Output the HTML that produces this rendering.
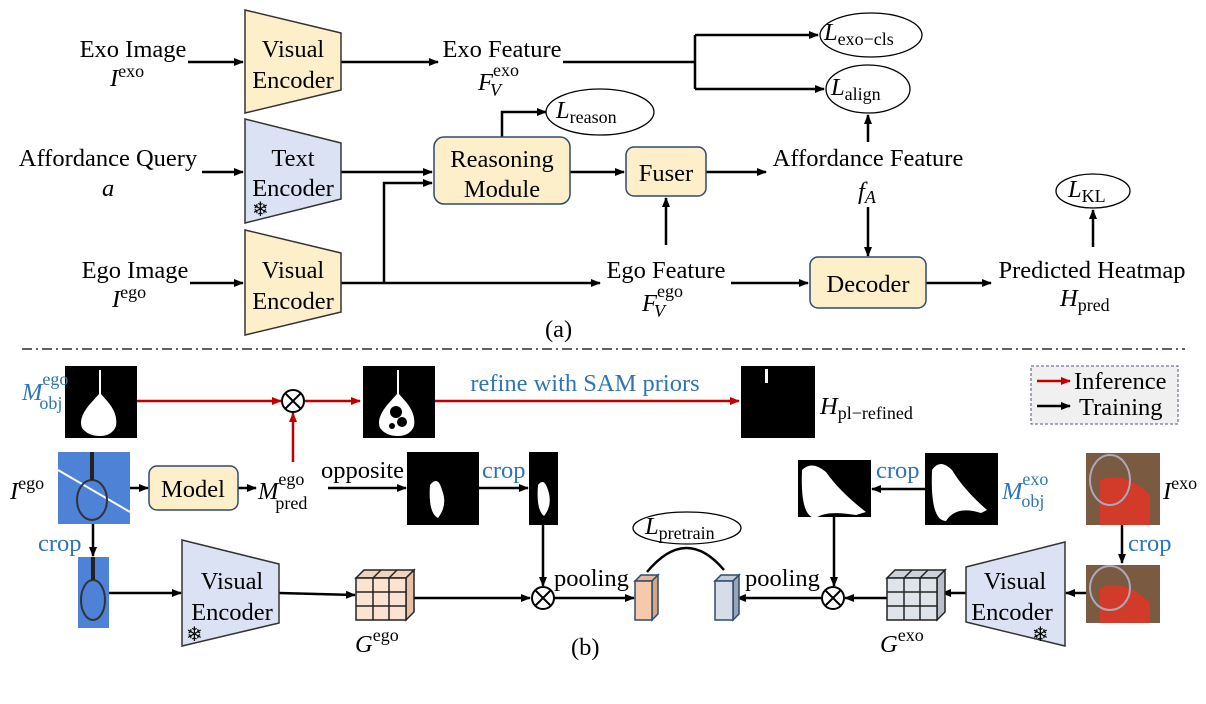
<!DOCTYPE html>
<html><head><meta charset="utf-8"><style>
html,body{margin:0;padding:0;background:#fff}
svg{display:block}
text{font-family:"Liberation Serif",serif;font-size:24.5px;fill:#000}
.it{font-style:italic}
.sub{font-size:18px}
.bl{fill:#2e75b6}
</style></head><body>
<svg width="1206" height="704" viewBox="0 0 1206 704" xmlns="http://www.w3.org/2000/svg">
<defs>
<marker id="a" markerWidth="10" markerHeight="8" refX="9" refY="4" orient="auto" markerUnits="userSpaceOnUse"><path d="M0,0 L10,4 L0,8 z" fill="#000"/></marker>
<marker id="r" markerWidth="10" markerHeight="8" refX="9" refY="4" orient="auto" markerUnits="userSpaceOnUse"><path d="M0,0 L10,4 L0,8 z" fill="#c00000"/></marker>
</defs>
<g stroke="#000" stroke-width="2.5" fill="none">
<line x1="188" y1="62" x2="243" y2="62" marker-end="url(#a)"/>
<line x1="341" y1="62" x2="438" y2="62" marker-end="url(#a)"/>
<polyline points="563,62 695,62"/>
<polyline points="695,35 695,89"/>
<line x1="695" y1="35" x2="818" y2="35" marker-end="url(#a)"/>
<line x1="695" y1="89" x2="824" y2="89" marker-end="url(#a)"/>
<line x1="202" y1="172" x2="243" y2="172" marker-end="url(#a)"/>
<line x1="341" y1="172" x2="432" y2="172" marker-end="url(#a)"/>
<polyline points="384,283 384,183 432,183" marker-end="url(#a)"/>
<polyline points="502,137 502,112 546,112" marker-end="url(#a)"/>
<line x1="570" y1="172" x2="624" y2="172" marker-end="url(#a)"/>
<line x1="705" y1="172" x2="766" y2="172" marker-end="url(#a)"/>
<line x1="666" y1="245" x2="666" y2="198" marker-end="url(#a)"/>
<line x1="868" y1="142" x2="868" y2="115" marker-end="url(#a)"/>
<line x1="868" y1="207" x2="868" y2="256" marker-end="url(#a)"/>
<line x1="190" y1="283" x2="243" y2="283" marker-end="url(#a)"/>
<line x1="341" y1="283" x2="600" y2="283" marker-end="url(#a)"/>
<line x1="731" y1="283" x2="808" y2="283" marker-end="url(#a)"/>
<line x1="926" y1="283" x2="991" y2="283" marker-end="url(#a)"/>
<line x1="1093" y1="247" x2="1093" y2="210" marker-end="url(#a)"/>
</g>
<g stroke="#333" stroke-width="1.5">
<polygon points="245,10 341,33 341,90 245,113" fill="#fcefc9"/>
<polygon points="245,119 341,143 341,199 245,223" fill="#dbe2f4"/>
<polygon points="245,230 341,253 341,312 245,335" fill="#fcefc9"/>
<rect x="434" y="137" width="136" height="67" rx="10" fill="#fcefc9" stroke="#2f4a6e"/>
<rect x="626" y="147" width="80" height="49" rx="8" fill="#fcefc9" stroke="#2f4a6e"/>
<rect x="810" y="257" width="116" height="51" rx="8" fill="#fcefc9" stroke="#2f4a6e"/>
</g>
<g fill="none" stroke="#000" stroke-width="1.3">
<ellipse cx="871" cy="35" rx="51" ry="22"/>
<ellipse cx="868" cy="89" rx="42" ry="24"/>
<ellipse cx="600" cy="112" rx="54" ry="23"/>
<ellipse cx="1093" cy="191" rx="37" ry="17"/>
</g>
<text x="293" y="57" text-anchor="middle">Visual</text>
<text x="293" y="88" text-anchor="middle">Encoder</text>
<text x="293" y="166" text-anchor="middle">Text</text>
<text x="293" y="196" text-anchor="middle">Encoder</text>
<text x="252" y="216" style="font-size:20px">❄</text>
<text x="293" y="278" text-anchor="middle">Visual</text>
<text x="293" y="309" text-anchor="middle">Encoder</text>
<text x="502" y="167" text-anchor="middle">Reasoning</text>
<text x="502" y="197" text-anchor="middle">Module</text>
<text x="666" y="181" text-anchor="middle">Fuser</text>
<text x="868" y="292" text-anchor="middle">Decoder</text>
<text x="133" y="57" text-anchor="middle">Exo Image</text>
<text x="110" y="86"><tspan class="it">I</tspan><tspan class="sub" dy="-9">exo</tspan></text>
<text x="108" y="166" text-anchor="middle">Affordance Query</text>
<text x="102" y="196" class="it">a</text>
<text x="135" y="278" text-anchor="middle">Ego Image</text>
<text x="112" y="307"><tspan class="it">I</tspan><tspan class="sub" dy="-9">ego</tspan></text>
<text x="502" y="57" text-anchor="middle">Exo Feature</text>
<text x="478" y="90"><tspan class="it">F</tspan><tspan class="sub" dy="-14">exo</tspan><tspan class="sub it" dx="-29" dy="20">V</tspan></text>
<text x="666" y="278" text-anchor="middle">Ego Feature</text>
<text x="642" y="311"><tspan class="it">F</tspan><tspan class="sub" dy="-14">ego</tspan><tspan class="sub it" dx="-29" dy="20">V</tspan></text>
<text x="868" y="166" text-anchor="middle">Affordance Feature</text>
<text x="858" y="199"><tspan class="it">f</tspan><tspan class="sub it" dy="4">A</tspan></text>
<text x="1092" y="278" text-anchor="middle">Predicted Heatmap</text>
<text x="1060" y="306"><tspan class="it">H</tspan><tspan class="sub" dy="5">pred</tspan></text>
<text x="824" y="40"><tspan class="it">L</tspan><tspan class="sub" dy="5">exo−cls</tspan></text>
<text x="831" y="95"><tspan class="it">L</tspan><tspan class="sub" dy="5">align</tspan></text>
<text x="556" y="118"><tspan class="it">L</tspan><tspan class="sub" dy="5">reason</tspan></text>
<text x="1068" y="197"><tspan class="it">L</tspan><tspan class="sub" dy="5">KL</tspan></text>
<text x="545" y="337">(a)</text>
<line x1="22" y1="349" x2="1185" y2="349" stroke="#000" stroke-width="1.3" stroke-dasharray="10,4,2,4"/>

<g stroke="#c00000" stroke-width="2.5" fill="none">
<line x1="137" y1="401" x2="281" y2="401" marker-end="url(#r)"/>
<line x1="304" y1="401" x2="360" y2="401" marker-end="url(#r)"/>
<line x1="293" y1="462" x2="293" y2="413" marker-end="url(#r)"/>
<line x1="435" y1="401" x2="739" y2="401" marker-end="url(#r)"/>
</g>
<g stroke="#000" stroke-width="2.5" fill="none">
<line x1="130" y1="488" x2="148" y2="488" marker-end="url(#a)"/>
<line x1="238" y1="488" x2="256" y2="488" marker-end="url(#a)"/>
<line x1="328" y1="488" x2="406" y2="488" marker-end="url(#a)"/>
<line x1="479" y1="488" x2="528" y2="488" marker-end="url(#a)"/>
<line x1="543" y1="525" x2="543" y2="586" marker-end="url(#a)"/>
<line x1="93" y1="524" x2="93" y2="556" marker-end="url(#a)"/>
<line x1="109" y1="593" x2="181" y2="593" marker-end="url(#a)"/>
<line x1="279" y1="593" x2="355" y2="595" marker-end="url(#a)"/>
<line x1="411" y1="598" x2="530" y2="598" marker-end="url(#a)"/>
<line x1="554" y1="598" x2="634" y2="598" marker-end="url(#a)"/>
<line x1="821" y1="598" x2="737" y2="598" marker-end="url(#a)"/>
<line x1="834" y1="517" x2="834" y2="586" marker-end="url(#a)"/>
<line x1="925" y1="489" x2="872" y2="489" marker-end="url(#a)"/>
<line x1="1122" y1="525" x2="1122" y2="563" marker-end="url(#a)"/>
<line x1="1086" y1="593" x2="1066" y2="593" marker-end="url(#a)"/>
<line x1="966" y1="593" x2="942" y2="593" marker-end="url(#a)"/>
<line x1="887" y1="598" x2="845" y2="598" marker-end="url(#a)"/>
<path d="M647,572 Q686,525 724,570"/>
</g>
<g stroke="#000" stroke-width="2" fill="#fff">
<circle cx="293" cy="401" r="11"/><path d="M285,393 L301,409 M301,393 L285,409"/>
<circle cx="543" cy="598" r="11"/><path d="M535,590 L551,606 M551,590 L535,606"/>
<circle cx="833" cy="598" r="11"/><path d="M825,590 L841,606 M841,590 L825,606"/>
</g>
<rect x="65" y="366" width="72" height="72" fill="#000"/>
<path d="M99,370 L99,394 L90,404 Q78,418 82,428 Q88,436 100,436 Q112,436 116,426 Q118,414 108,402 L101,394 L101,370 z" fill="#fff"/>
<rect x="363" y="366" width="72" height="72" fill="#000"/>
<path d="M397,370 L397,394 L388,404 Q376,418 380,428 Q386,436 398,436 Q410,436 414,426 Q416,414 406,402 L399,394 L399,370 z" fill="#fff"/>
<g fill="#000"><circle cx="396" cy="412" r="6"/><circle cx="402" cy="422" r="5"/><circle cx="392" cy="426" r="3"/></g>
<rect x="741" y="366" width="74" height="72" fill="#000"/>
<rect x="765" y="369" width="3" height="14" fill="#fff"/>
<rect x="58" y="452" width="72" height="72" fill="#4d82d6"/>
<path d="M58,470 L130,512" stroke="#fff" stroke-width="2"/>
<ellipse cx="92" cy="500" rx="15" ry="20" fill="none" stroke="#333" stroke-width="2"/>
<line x1="92" y1="452" x2="92" y2="480" stroke="#222" stroke-width="4"/>
<rect x="78" y="557" width="31" height="71" fill="#4d82d6"/>
<ellipse cx="93" cy="600" rx="12" ry="20" fill="none" stroke="#333" stroke-width="2"/>
<line x1="93" y1="557" x2="93" y2="580" stroke="#222" stroke-width="4"/>
<rect x="149" y="466" width="89" height="44" rx="8" fill="#fcefc9" stroke="#2f4a6e" stroke-width="1.5"/>
<text x="193" y="497" text-anchor="middle">Model</text>
<rect x="407" y="452" width="72" height="73" fill="#000"/>
<path d="M430,485 q8,-10 12,5 q6,15 -4,28 q-10,-5 -8,-33z" fill="#fff"/>
<rect x="529" y="452" width="29" height="73" fill="#000"/>
<path d="M538,485 q6,-8 10,5 q5,15 -4,26 q-8,-6 -6,-31z" fill="#fff"/>
<rect x="798" y="460" width="73" height="57" fill="#000"/>
<path d="M802,470 q10,-10 24,2 q14,20 40,40 l-10,3 q-30,-5 -40,3 q-16,0 -14,-48z" fill="#fff"/>
<rect x="925" y="453" width="73" height="72" fill="#000"/>
<path d="M932,470 q8,-12 20,0 q12,20 35,40 l-6,3 q-25,-8 -35,8 q-16,0 -14,-51z" fill="#fff"/>
<rect x="1086" y="453" width="74" height="72" fill="#7a5a40"/>
<path d="M1100,480 q25,-10 50,15 l0,30 l-50,0z" fill="#d23a2a"/>
<ellipse cx="1110" cy="480" rx="20" ry="25" fill="none" stroke="#aab" stroke-width="2"/>
<rect x="1086" y="565" width="74" height="58" fill="#7a5a40"/>
<path d="M1100,588 q25,-10 50,15 l0,20 l-50,0z" fill="#d23a2a"/>
<ellipse cx="1110" cy="588" rx="20" ry="22" fill="none" stroke="#aab" stroke-width="2"/>
<polygon points="182,540 279,564 279,623 182,646" fill="#dbe2f4" stroke="#333" stroke-width="1.5"/>
<text x="232" y="589" text-anchor="middle">Visual</text>
<text x="232" y="620" text-anchor="middle">Encoder</text>
<text x="186" y="641" style="font-size:20px">❄</text>
<polygon points="1065,542 966,567 966,622 1065,646" fill="#dbe2f4" stroke="#333" stroke-width="1.5"/>
<text x="1015" y="589" text-anchor="middle">Visual</text>
<text x="1012" y="620" text-anchor="middle">Encoder</text>
<text x="1032" y="641" style="font-size:20px">❄</text>
<g stroke="#222" stroke-width="1.5">
<polygon points="356,578 364,570 414,570 406,578" fill="#f2d2bc"/>
<polygon points="406,578 414,570 414,612 406,620" fill="#e8c0a8"/>
<rect x="356" y="578" width="50" height="42" fill="#fbe3d3"/>
<path d="M373,578 V620 M389,578 V620 M356,592 H406 M356,606 H406 M381,570 L373,578 M397,570 L389,578" fill="none"/>
<polygon points="887,578 895,570 945,570 937,578" fill="#cdd2da"/>
<polygon points="937,578 945,570 945,612 937,620" fill="#b9bec8"/>
<rect x="887" y="578" width="50" height="42" fill="#dfe3ea"/>
<path d="M904,578 V620 M920,578 V620 M887,592 H937 M887,606 H937 M912,570 L904,578 M928,570 L920,578" fill="none"/>
<polygon points="635,581 641,575 658,575 652,581" fill="#e9b89a" stroke="#2f4a6e"/>
<polygon points="652,581 658,575 658,614 652,620" fill="#d9a484" stroke="#2f4a6e"/>
<rect x="635" y="581" width="17" height="39" fill="#f7c9ab" stroke="#2f4a6e"/>
<polygon points="715,581 721,575 739,575 733,581" fill="#c4ccd8" stroke="#2f4a6e"/>
<polygon points="733,581 739,575 739,614 733,620" fill="#9aa4b4" stroke="#2f4a6e"/>
<rect x="715" y="581" width="18" height="39" fill="#d6dde8" stroke="#2f4a6e"/>
</g>
<ellipse cx="687" cy="528" rx="54" ry="16" fill="none" stroke="#000" stroke-width="1.3"/>
<text x="645" y="534"><tspan class="it">L</tspan><tspan class="sub" dy="5">pretrain</tspan></text>
<text x="22" y="400" class="bl"><tspan class="it bl">M</tspan><tspan class="sub bl" dy="-15">ego</tspan><tspan class="sub bl" dx="-29" dy="24">obj</tspan></text>
<text x="10" y="499"><tspan class="it">I</tspan><tspan class="sub" dy="-10">ego</tspan></text>
<text x="258" y="499"><tspan class="it">M</tspan><tspan class="sub" dy="-14">ego</tspan><tspan class="sub" dx="-29" dy="24">pred</tspan></text>
<text x="321" y="478">opposite</text>
<text x="482" y="478" class="bl">crop</text>
<text x="38" y="551" class="bl">crop</text>
<text x="585" y="391" text-anchor="middle" class="bl">refine with SAM priors</text>
<text x="820" y="414"><tspan class="it">H</tspan><tspan class="sub" dy="5">pl−refined</tspan></text>
<text x="876" y="478" class="bl">crop</text>
<text x="1002" y="499" class="bl"><tspan class="it bl">M</tspan><tspan class="sub bl" dy="-14">exo</tspan><tspan class="sub bl" dx="-27" dy="22">obj</tspan></text>
<text x="1163" y="499"><tspan class="it">I</tspan><tspan class="sub" dy="-10">exo</tspan></text>
<text x="1128" y="551" class="bl">crop</text>
<text x="554" y="586">pooling</text>
<text x="745" y="586">pooling</text>
<text x="355" y="652"><tspan class="it">G</tspan><tspan class="sub" dy="-11">ego</tspan></text>
<text x="880" y="652"><tspan class="it">G</tspan><tspan class="sub" dy="-11">exo</tspan></text>
<text x="571" y="655">(b)</text>
<rect x="1031" y="366" width="147" height="58" fill="#f0f0f0" stroke="#4a5a7a" stroke-width="1" stroke-dasharray="3,2"/>
<line x1="1037" y1="381" x2="1070" y2="381" stroke="#c00000" stroke-width="2.5" marker-end="url(#r)"/>
<line x1="1037" y1="406" x2="1070" y2="406" stroke="#000" stroke-width="2.5" marker-end="url(#a)"/>
<text x="1074" y="389">Inference</text>
<text x="1079" y="415">Training</text>
</svg>
</body></html>
